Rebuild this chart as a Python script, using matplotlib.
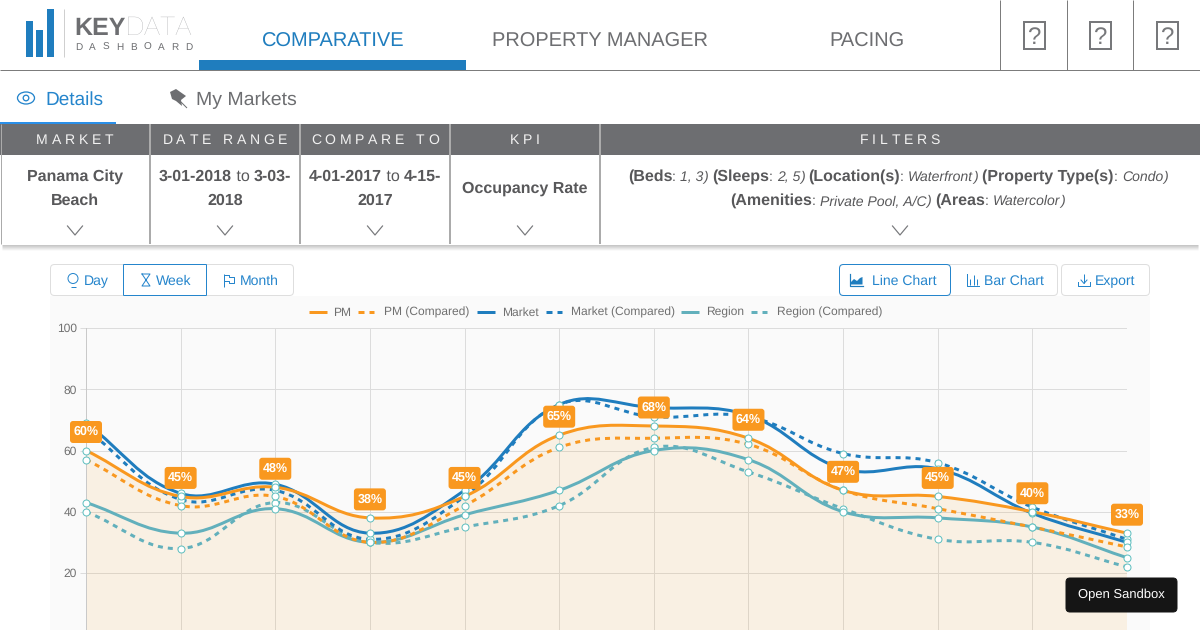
import numpy as np
import matplotlib
matplotlib.use('Agg')
import matplotlib.pyplot as plt
from matplotlib.patches import FancyBboxPatch, PathPatch, Rectangle, Circle, Ellipse, Polygon
from matplotlib.path import Path
from matplotlib.transforms import IdentityTransform
from matplotlib.font_manager import FontProperties, findfont, get_font
from matplotlib.ft2font import LoadFlags

plt.rcParams['font.family'] = ['Liberation Sans', 'DejaVu Sans']
plt.rcParams['text.hinting'] = 'no_hinting'

# chart values
weeks = np.arange(12)
pm = [60, 45, 48, 38, 45, 65, 68, 64, 47, 45, 40, 33]
pm_compared = [57, 42, 45, 30, 42, 61, 64, 62, 47, 41, 35, 28.5]
market = [69, 46, 49, 33, 47, 75, 74, 71.5, 54, 54, 39.5, 30]
market_compared = [67, 44, 47, 31, 45, 75, 71, 71, 59, 56, 41.5, 31]
region = [43, 33, 41, 30, 39, 47, 60, 57, 40, 38, 35, 25]
region_compared = [40, 28, 43, 30, 35, 42, 61, 53, 41, 31, 30, 22]
pm_labels = ['60%', '45%', '48%', '38%', '45%', '65%', '68%', '64%', '47%', '45%', '40%', '33%']
y_ticks = [0, 20, 40, 60, 80, 100]

legend_labels = ['PM', 'PM (Compared)', 'Market', 'Market (Compared)', 'Region', 'Region (Compared)']

nav_labels = ['COMPARATIVE', 'PROPERTY MANAGER', 'PACING']
header_labels = ['MARKET', 'DATE RANGE', 'COMPARE TO', 'KPI', 'FILTERS']

ORANGE = '#F9981F'
BLUE = '#1F7DBE'
TEAL = '#62B0BC'
GREY = '#6D6E71'
TEXT = '#58585A'
LINK = '#2585CC'
EDGE = '#DEDEDE'

fig = plt.figure(figsize=(12, 6.3), dpi=100, facecolor='white')

ui = fig.add_axes([0, 0, 1, 1], zorder=0)
ui.set_xlim(0, 1200)
ui.set_ylim(630, 0)
ui.axis('off')


def px(size):
    return size * 0.72


def label(x, y, s, size, color, ha='left', z=4, **kw):
    # y is the middle of the capitals, so every text sits on a steady baseline
    ui.text(x, y + 0.36 * size, s, fontsize=px(size), color=color, ha=ha, va='baseline', zorder=z, **kw)


def advance(ch, size, weight='normal', style='normal'):
    prop = FontProperties(family='Liberation Sans', weight=weight, style=style)
    font = get_font(findfont(prop))
    font.set_size(size, 72)
    return font.load_char(ord(ch), flags=LoadFlags.NO_HINTING).linearHoriAdvance / 65536


def spaced(cx, y, s, size, spacing, color, weight='normal'):
    widths = [advance(c, size, weight) for c in s]
    x = cx - (sum(widths) + spacing * (len(s) - 1)) / 2
    for c, w in zip(s, widths):
        label(x, y, c, size, color, weight=weight)
        x += w + spacing


def runs(cx, y, parts, color=TEXT):
    # parts is (text, size, weight, style), centred as one line
    total = sum(advance(c, p[1], p[2], p[3]) for p in parts for c in p[0])
    x = cx - total / 2
    for s, size, weight, style in parts:
        ui.text(x, y + 0.36 * 16, s.replace(' ', '\u00a0'), fontsize=px(size), color=color, weight=weight,
                style=style, ha='left', va='baseline', zorder=4)
        x += sum(advance(c, size, weight, style) for c in s)


def box(x0, y0, x1, y1, edge, face='white', lw=1, r=4, z=2, ax=ui):
    ax.add_patch(FancyBboxPatch((x0, y0), x1 - x0, y1 - y0, boxstyle='round,pad=0,rounding_size=%g' % r,
                                fc=face, ec=edge, lw=px(lw), zorder=z))


def seg(xs, ys, color, lw=1, z=4):
    ui.plot(xs, ys, color=color, lw=px(lw), solid_capstyle='butt', zorder=z)


# top nav
for x0, y0, x1 in [(26, 21, 32.5), (36, 30, 43), (47, 9, 53.5)]:
    ui.add_patch(Rectangle((x0, y0), x1 - x0, 57 - y0, fc=BLUE, ec='none'))
seg([64, 64], [9, 57], '#CFCFCF')
label(74, 26, 'KEY', 25, GREY, weight='bold')
ui.text(125, 35, 'DATA', fontsize=px(26), color='#9A9B9E', ha='left', va='baseline', fontfamily='Lato', weight='light')
spaced(134, 46.5, 'DASHBOARD', 10, 6.7, GREY)

ui.add_patch(Rectangle((199, 60), 267, 10, fc=BLUE, ec='none'))
seg([0, 1200], [70, 70], '#7C7C7C')
for x in [1000, 1067, 1133]:
    seg([x, x], [0, 70], '#7C7C7C')
for cx, s, col in zip([333, 600, 867], nav_labels, [BLUE, GREY, GREY]):
    label(cx, 40, s, 20, col, ha='center')
for cx in [1034, 1100, 1167]:
    ui.add_patch(Rectangle((cx - 10.5, 22), 21, 26.5, fc='none', ec='#77787B', lw=px(2)))
    label(cx, 35, '?', 24, '#77787B', ha='center')

# tabs
ui.add_patch(Ellipse((26, 98), 17, 12, fc='none', ec=LINK, lw=px(1.3)))
ui.add_patch(Circle((26, 98), 2.8, fc='none', ec=LINK, lw=px(1.3)))
label(45, 98, 'Details', 19, LINK)
ui.add_patch(Rectangle((0, 122), 116, 2, fc='#2A8FE8', ec='none'))
ui.add_patch(Polygon([(170, 92), (176, 89), (186, 96), (181, 100), (182, 106), (176, 101), (172, 99)], fc=GREY, ec='none'))
seg([181, 187], [102, 108], GREY)
label(196, 98, 'My Markets', 19.5, GREY)

# filter table
for i in range(6):
    seg([2, 1198], [244.5 + i, 244.5 + i], str(0.78 + i * 0.04), z=1)
ui.add_patch(Rectangle((0, 124), 1200, 31, fc=GREY, ec='none', zorder=2))
for x in [150, 300, 450, 600]:
    seg([x, x], [124, 244], '#ABABAB', lw=2, z=3)
for x in [0.5, 1199.5]:
    seg([x, x], [124, 244], '#ABABAB', lw=1, z=3)
for cx, s in zip([75, 225, 375, 525, 900], header_labels):
    spaced(cx, 139, s, 14, 3.8, '#F2F2F2')
    ui.plot([cx - 7.5, cx, cx + 7.5], [226, 235, 226], color='#77787B', lw=px(1.2), zorder=3)

runs(75, 175, [('Panama City', 16, 'bold', 'normal')])
runs(75, 199, [('Beach', 16, 'bold', 'normal')])
runs(225, 175, [('3-01-2018', 16, 'bold', 'normal'), (' to ', 16, 'normal', 'normal'), ('3-03-', 16, 'bold', 'normal')])
runs(225, 199, [('2018', 16, 'bold', 'normal')])
runs(375, 175, [('4-01-2017', 16, 'bold', 'normal'), (' to ', 16, 'normal', 'normal'), ('4-15-', 16, 'bold', 'normal')])
runs(375, 199, [('2017', 16, 'bold', 'normal')])
runs(525, 187, [('Occupancy Rate', 16, 'bold', 'normal')])


def filt(name, value, tail=' '):
    return [('(' + name, 16, 'bold', 'normal'), (': ', 14, 'normal', 'normal'),
            (value, 14, 'normal', 'italic'), (')' + tail, 14, 'normal', 'italic')]


runs(898, 175, filt('Beds', '1, 3') + filt('Sleeps', '2, 5') + filt('Location(s)', 'Waterfront')
     + filt('Property Type(s)', 'Condo', ''))
runs(898, 199, filt('Amenities', 'Private Pool, A/C') + filt('Areas', 'Watercolor', ''))

# buttons
box(50.5, 264.5, 293.5, 295.5, EDGE)
box(123.5, 264.5, 206.5, 295.5, LINK, r=0.5, z=3)
box(839.5, 264.5, 1057.5, 295.5, EDGE)
box(839.5, 264.5, 950.5, 295.5, LINK, z=3)
box(1061.5, 264.5, 1149.5, 295.5, EDGE)
for x, s in [(84, 'Day'), (156, 'Week'), (240, 'Month'), (872, 'Line Chart'), (984, 'Bar Chart'), (1095, 'Export')]:
    label(x, 280, s, 14, LINK, z=5)
# bulb
ui.add_patch(Circle((73, 278.5), 5, fc='none', ec=LINK, lw=px(1), zorder=5))
seg([70.5, 75.5], [286.5, 286.5], LINK, z=5)
# hourglass
ui.plot([142, 150, 142, 150, 142], [274, 274, 286, 286, 274], color=LINK, lw=px(1), zorder=5)
# flag
seg([223.5, 223.5], [274, 287], LINK, z=5)
ui.plot([223.5, 229, 229, 234, 234, 229, 229, 223.5], [275, 275, 277, 277, 283, 283, 281, 281], color=LINK, lw=px(1), zorder=5)
# line chart icon
ui.plot([856 - 6, 856 - 6, 856 + 7], [274, 286, 286], color=BLUE, lw=px(1.2), zorder=5)
ui.add_patch(Polygon([(851, 284.5), (851, 282), (854, 279), (857, 281), (860, 278), (862.5, 277), (862.5, 284.5)], fc=BLUE, ec='none', zorder=5))
# bar chart icon
ui.plot([967, 967, 979], [274, 286, 286], color=LINK, lw=px(1), zorder=5)
for x, bar_top in [(970, 279), (973.5, 275), (977, 279)]:
    seg([x, x], [bar_top, 284.5], LINK, z=5)
# export icon
seg([1084, 1084], [274, 283], LINK, z=5)
ui.plot([1081, 1084, 1087], [280, 283.5, 280], color=LINK, lw=px(1), zorder=5)
ui.plot([1078, 1078, 1090, 1090], [282, 286, 286, 282], color=LINK, lw=px(1), zorder=5)

# chart panel
ui.add_patch(Rectangle((50, 296), 1100, 334, fc='#FAFAFA', ec='none', zorder=1))

legend_swatch = [309, 358, 477, 546, 681, 751]
legend_text = [333, 384, 502, 571, 706, 777]
legend_colors = [ORANGE, ORANGE, BLUE, BLUE, TEAL, TEAL]
for i, s in enumerate(legend_labels):
    x = legend_swatch[i]
    if i % 2 == 0:
        seg([x, x + 18], [312, 312], legend_colors[i], lw=3)
    else:
        seg([x, x + 5.5], [312, 312], legend_colors[i], lw=3)
        seg([x + 10.5, x + 16], [312, 312], legend_colors[i], lw=3)
    label(legend_text[i], 311.5, s, 12, '#707070')

# chart, the axes run just below the bottom of the figure so 0 gets cut off
top, zero = 328, 634.25
ax = fig.add_axes([86 / 1200, (630 - zero) / 630, 1041 / 1200, (zero - top) / 630], zorder=1)
ax.patch.set_alpha(0)
ax.set_xlim(0, 11)
ax.set_ylim(0, 100)
ax.set_xticks(weeks)
ax.set_yticks(y_ticks)
ax.set_xticklabels([])
ax.grid(True, color='#DCDCDC', lw=px(1), zorder=0)
ax.set_axisbelow(True)
for name in ['top', 'right', 'bottom']:
    ax.spines[name].set_visible(False)
ax.spines['left'].set_color('#C9C9C9')
ax.spines['left'].set_linewidth(px(1))
ax.tick_params(axis='x', length=0)
ax.tick_params(axis='y', length=px(6), width=px(1), color='#DCDCDC', labelcolor='#707070',
               labelsize=px(12), pad=px(3))


def spline(ys, t=0.4):
    # same bezier smoothing chart.js does, distances taken in screen pixels
    sx, sy = 1041 / 11, (zero - top) / 100
    n = len(ys)
    out, inn = [], []
    for i in range(n):
        p = max(i - 1, 0)
        q = min(i + 1, n - 1)
        d01 = np.hypot((i - p) * sx, (ys[i] - ys[p]) * sy)
        d12 = np.hypot((q - i) * sx, (ys[q] - ys[i]) * sy)
        s = d01 + d12
        fa = t * d01 / s
        fb = t * d12 / s
        inn.append((i - fa * (q - p), ys[i] - fa * (ys[q] - ys[p])))
        out.append((i + fb * (q - p), ys[i] + fb * (ys[q] - ys[p])))
    verts = [(0, ys[0])]
    codes = [Path.MOVETO]
    for i in range(n - 1):
        verts += [out[i], inn[i + 1], (i + 1, ys[i + 1])]
        codes += [Path.CURVE4] * 3
    return verts, codes


verts, codes = spline(pm)
fill_path = Path(verts + [(11, 0), (0, 0), (0, pm[0])], codes + [Path.LINETO, Path.LINETO, Path.LINETO])
ax.add_patch(PathPatch(fill_path, fc=ORANGE, ec='none', alpha=0.1, zorder=1))

series = [(region_compared, TEAL, True), (region, TEAL, False), (market_compared, BLUE, True),
          (market, BLUE, False), (pm_compared, ORANGE, True), (pm, ORANGE, False)]
for k, (vals, col, dashed) in enumerate(series):
    verts, codes = spline(vals)
    ls = (0, (5 / 3, 5 / 3)) if dashed else '-'
    ax.add_patch(PathPatch(Path(verts, codes), fc='none', ec=col, lw=px(3), ls=ls, capstyle='butt',
                           clip_on=False, zorder=3 + k * 0.1))
for vals, col, dashed in series:
    ax.plot(weeks, vals, ls='none', marker='o', ms=px(7), mfc='white', mec='#5FBFC0', mew=px(1),
            clip_on=False, zorder=4)

for x, v, s in zip(weeks, pm, pm_labels):
    dx, dy = ax.transData.transform((x, v))
    ax.add_patch(FancyBboxPatch((dx - 16, dy + 7.5), 32, 22, boxstyle='round,pad=0,rounding_size=3', fc=ORANGE,
                                ec='none', transform=IdentityTransform(), clip_on=False, zorder=6))
    ax.annotate(s, (x, v), xytext=(0, px(18.5)), textcoords='offset points', ha='center', va='center',
                color='white', fontsize=px(12.5), weight='bold', zorder=7, annotation_clip=False)

# tooltip sits over everything
over = fig.add_axes([0, 0, 1, 1], zorder=2)
over.set_xlim(0, 1200)
over.set_ylim(630, 0)
over.axis('off')
box(1066, 578, 1177, 612, '#151515', face='#151515', z=2, ax=over)
over.text(1121.5, 594.5, 'Open Sandbox', fontsize=px(13), color='white', ha='center', va='center', zorder=3)

fig.savefig('out.png', dpi=100)
